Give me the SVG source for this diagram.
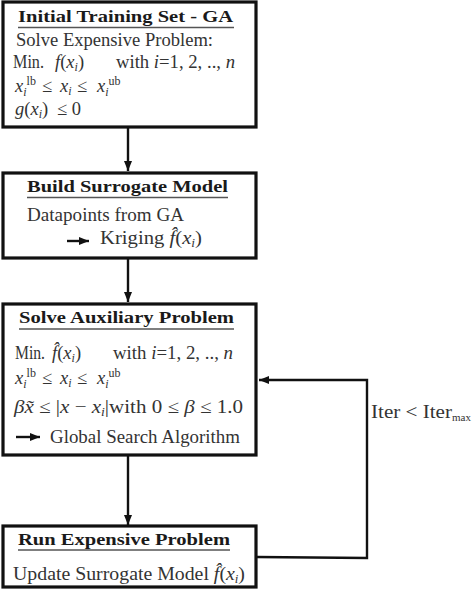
<svg xmlns="http://www.w3.org/2000/svg" width="474" height="589" viewBox="0 0 474 589">
<style>
.box{fill:#fff;stroke:#111;stroke-width:3.2}
.ttl{font-family:"Liberation Serif",serif;font-weight:bold;font-size:17.5px;fill:#1a1a1a}
.txt{font-family:"Liberation Serif",serif;font-size:18.5px;fill:#333}
.it{font-style:italic}
.ul{stroke:#555;stroke-width:1.3}
.con{fill:none;stroke:#111;stroke-width:2.4}
.sm{font-size:12px}
</style>
<defs>
<marker id="ah" viewBox="0 0 10 8" refX="10" refY="4" markerWidth="10" markerHeight="8" markerUnits="userSpaceOnUse" orient="auto">
<path d="M0,0 L10,4 L0,8 Z" fill="#111"/>
</marker>
</defs>
<rect width="474" height="589" fill="#fff"/>
<g id="connectors">
<line class="con" x1="128" y1="128" x2="128" y2="171" marker-end="url(#ah)"/>
<line class="con" x1="128" y1="259" x2="128" y2="302" marker-end="url(#ah)"/>
<line class="con" x1="128" y1="456" x2="128" y2="525" marker-end="url(#ah)"/>
<polyline class="con" points="257,557 367,558 367,380 259,380" marker-end="url(#ah)"/>
<text class="txt" x="371" y="418" textLength="81" lengthAdjust="spacingAndGlyphs">Iter &lt; Iter</text>
<text class="txt" x="452" y="421" font-size="11" style="font-size:11px">max</text>
</g>
<g id="node1">
<rect class="box" x="3" y="2" width="253" height="125"/>
<text class="ttl" x="18" y="22" textLength="215" lengthAdjust="spacingAndGlyphs">Initial Training Set - GA</text>
<line class="ul" x1="18" y1="27.5" x2="234" y2="27.5"/>
<text class="txt" x="16" y="46" textLength="197" lengthAdjust="spacingAndGlyphs">Solve Expensive Problem:</text>
<text class="txt" x="13" y="68" textLength="31" lengthAdjust="spacingAndGlyphs">Min.</text>
<text class="txt" x="55" y="68"><tspan class="it">f</tspan>(<tspan class="it">x</tspan><tspan class="it sm" dy="3">i</tspan><tspan dy="-3">)</tspan></text>
<text class="txt" x="116" y="68" textLength="119" lengthAdjust="spacingAndGlyphs">with <tspan class="it">i</tspan>=1, 2, .., <tspan class="it">n</tspan></text>
<text class="txt" x="15" y="92"><tspan class="it">x</tspan><tspan class="it sm" dy="4">i</tspan><tspan class="sm" dy="-11">lb</tspan></text>
<text class="txt" x="42" y="92">≤</text>
<text class="txt" x="60" y="92"><tspan class="it">x</tspan><tspan class="it sm" dy="3">i</tspan></text>
<text class="txt" x="77" y="92">≤</text>
<text class="txt" x="97" y="92"><tspan class="it">x</tspan><tspan class="it sm" dy="4">i</tspan><tspan class="sm" dy="-11">ub</tspan></text>
<text class="txt" x="15" y="115"><tspan class="it">g</tspan>(<tspan class="it">x</tspan><tspan class="it sm" dy="3">i</tspan><tspan dy="-3">)</tspan></text>
<text class="txt" x="57" y="115">≤ 0</text>
</g>
<g id="node2">
<rect class="box" x="3" y="173" width="253" height="85"/>
<text class="ttl" x="27" y="192" textLength="201" lengthAdjust="spacingAndGlyphs">Build Surrogate Model</text>
<line class="ul" x1="27" y1="197.5" x2="228" y2="197.5"/>
<text class="txt" x="27" y="221" textLength="157" lengthAdjust="spacingAndGlyphs">Datapoints from GA</text>
<line class="con" x1="67" y1="241" x2="89" y2="241" stroke-width="2" marker-end="url(#ah)"/>
<text class="txt" x="100" y="244" textLength="102" lengthAdjust="spacingAndGlyphs">Kriging <tspan class="it">f̂</tspan>(<tspan class="it">x</tspan><tspan class="it sm" dy="3">i</tspan><tspan dy="-3">)</tspan></text>
</g>
<g id="node3">
<rect class="box" x="3" y="304" width="253" height="151"/>
<text class="ttl" x="19" y="323" textLength="215" lengthAdjust="spacingAndGlyphs">Solve Auxiliary Problem</text>
<line class="ul" x1="19" y1="329" x2="234" y2="329"/>
<text class="txt" x="15" y="359" textLength="30" lengthAdjust="spacingAndGlyphs">Min.</text>
<text class="txt" x="52" y="359"><tspan class="it">f̂</tspan>(<tspan class="it">x</tspan><tspan class="it sm" dy="3">i</tspan><tspan dy="-3">)</tspan></text>
<text class="txt" x="113" y="359" textLength="120" lengthAdjust="spacingAndGlyphs">with <tspan class="it">i</tspan>=1, 2, .., <tspan class="it">n</tspan></text>
<text class="txt" x="15" y="384"><tspan class="it">x</tspan><tspan class="it sm" dy="4">i</tspan><tspan class="sm" dy="-11">lb</tspan></text>
<text class="txt" x="42" y="384">≤</text>
<text class="txt" x="60" y="384"><tspan class="it">x</tspan><tspan class="it sm" dy="3">i</tspan></text>
<text class="txt" x="77" y="384">≤</text>
<text class="txt" x="97" y="384"><tspan class="it">x</tspan><tspan class="it sm" dy="4">i</tspan><tspan class="sm" dy="-11">ub</tspan></text>
<text class="txt" x="14" y="413" textLength="229" lengthAdjust="spacingAndGlyphs"><tspan class="it">βx̃</tspan> ≤ |<tspan class="it">x</tspan> − <tspan class="it">x</tspan><tspan class="it sm" dy="3">i</tspan><tspan dy="-3">|with 0 ≤ </tspan><tspan class="it">β</tspan> ≤ 1.0</text>
<line class="con" x1="16" y1="437" x2="40" y2="437" stroke-width="2" marker-end="url(#ah)"/>
<text class="txt" x="50" y="443" textLength="190" lengthAdjust="spacingAndGlyphs">Global Search Algorithm</text>
</g>
<g id="node4">
<rect class="box" x="3" y="526" width="253" height="61"/>
<text class="ttl" x="18" y="545" textLength="212" lengthAdjust="spacingAndGlyphs">Run Expensive Problem</text>
<line class="ul" x1="18" y1="550" x2="230" y2="550"/>
<text class="txt" x="13" y="580" textLength="232" lengthAdjust="spacingAndGlyphs">Update Surrogate Model <tspan class="it">f̂</tspan>(<tspan class="it">x</tspan><tspan class="it sm" dy="3">i</tspan><tspan dy="-3">)</tspan></text>
</g>
</svg>
